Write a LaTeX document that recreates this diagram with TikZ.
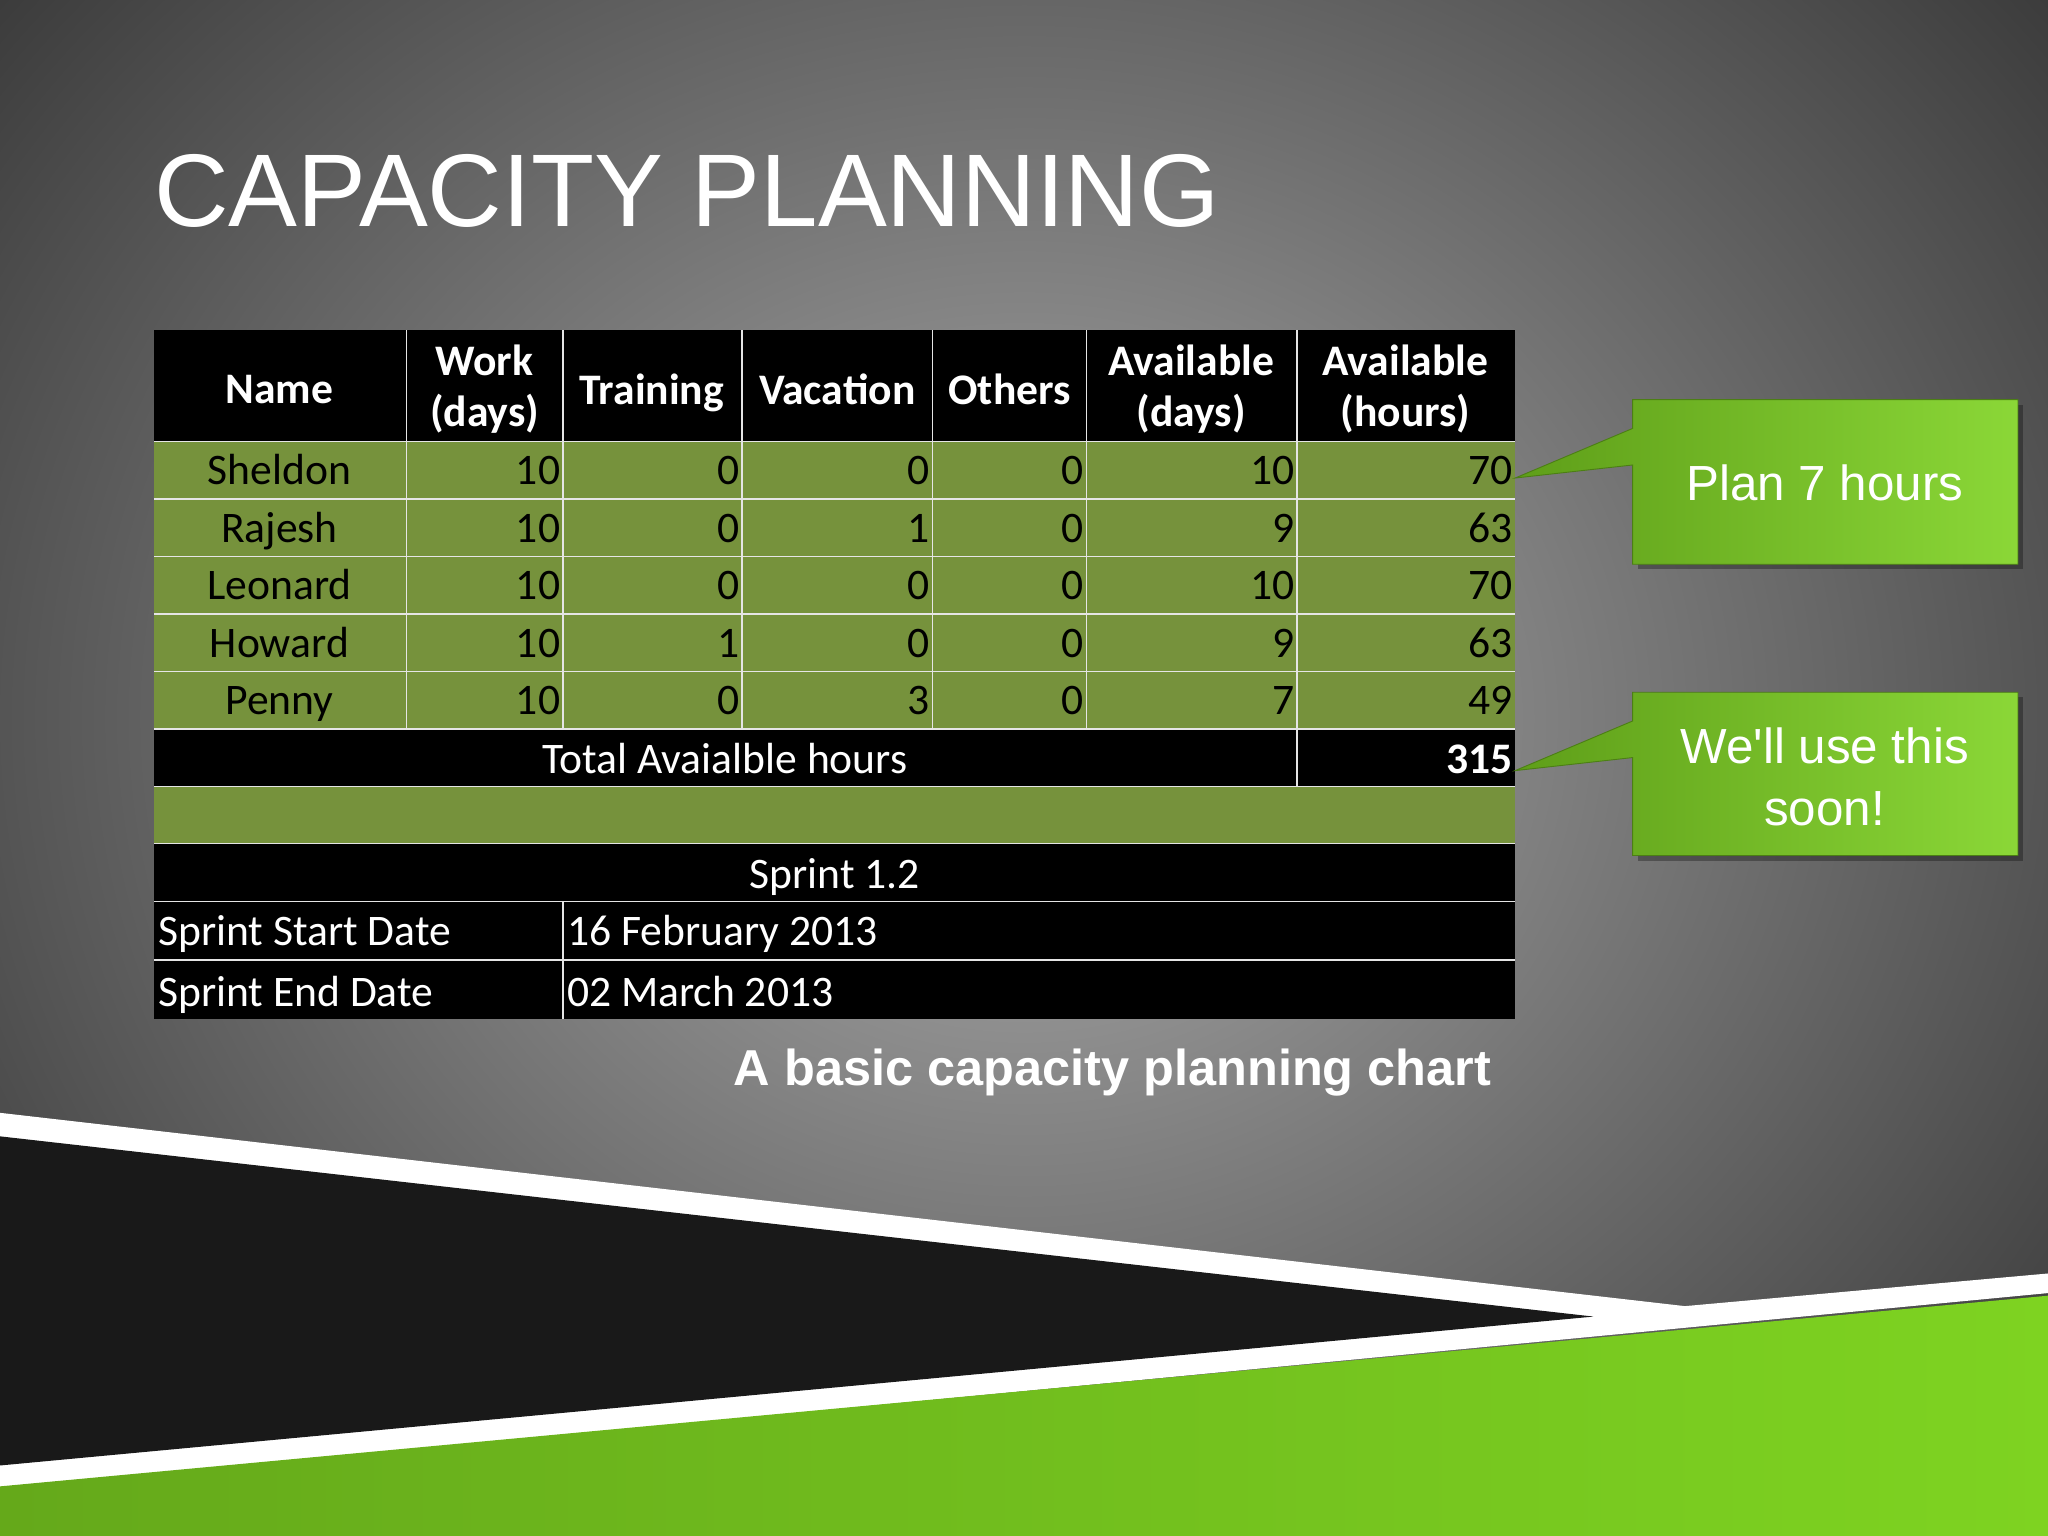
\documentclass[tikz,border=0pt]{standalone}
\usepackage{fontspec}
\setmainfont{Carlito}
\newfontfamily\arial{Liberation Sans}
\begin{document}
\begin{tikzpicture}[x=0.02cm,y=-0.02cm,
  cell/.style={font=\fontsize{19}{22}\selectfont, text height=0.7em, text depth=0.22em},
  hdr/.style={font=\bfseries\fontsize{19}{22}\selectfont, text=white, align=center},
  ctext/.style={font=\arial\fontsize{21.5}{27}\selectfont, text=white, align=center}]
\definecolor{cgreen}{HTML}{76923C}
\definecolor{lgreen}{HTML}{7ED321}
\useasboundingbox (0,0) rectangle (1568,1176);
% background
\shade[inner color=gray!65, outer color=black!80] (-300,-400) rectangle (1868,1500);
% bottom shapes
\fill[white] (0,852) -- (1290,1000) -- (1568,975) -- (1568,990) -- (0,1140) -- cycle;
\fill[black!90] (0,870) -- (1220,1008) -- (0,1122) -- cycle;
\shade[left color=lgreen!80!black, right color=lgreen] (0,1138) -- (1568,992) -- (1568,1176) -- (0,1176) -- cycle;
% title
\node[anchor=west, text=white, font=\arial\fontsize{45}{50}\selectfont] (title) at (112,146) {CAPACITY PLANNING};
% table fills
\fill[black] (118,253) rectangle (1160,338);
\fill[cgreen] (118,338) rectangle (1160,558);
\fill[black] (118,558) rectangle (1160,602);
\fill[cgreen] (118,602) rectangle (1160,646);
\fill[black] (118,646) rectangle (1160,780);
% grid lines
\foreach \x in {311,431,568,714,832,993} \draw[white!80!gray, line width=0.6pt] (\x,253) -- (\x,558);
\draw[white!80!gray, line width=0.6pt] (993,558) -- (993,602);
\draw[white!80!gray, line width=0.6pt] (431,690) -- (431,780);
\foreach \y in {338,382,426,470,514,558,602,646,690,735} \draw[white!80!gray, line width=0.6pt] (118,\y) -- (1160,\y);
% headers
\node[hdr] (h1) at (214,298) {Name};
\node[hdr] (h2) at (371,298) {Work\\(days)};
\node[hdr] (h3) at (499,302) {\strut Training};
\node[hdr] (h4) at (641,302) {\strut Vacation};
\node[hdr] (h5) at (773,302) {\strut Others};
\node[hdr] (h6) at (912,298) {Available\\(days)};
\node[hdr] (h7) at (1076,298) {Available\\(hours)};
% rows
\foreach \n/\a/\b/\c/\d/\e/\f [count=\i] in {Sheldon/10/0/0/0/10/70,Rajesh/10/0/1/0/9/63,Leonard/10/0/0/0/10/70,Howard/10/1/0/0/9/63,Penny/10/0/3/0/7/49}{
  \pgfmathsetmacro\yy{367+44*(\i-1)}
  \node[cell] (n\i) at (214,\yy) {\n};
  \node[cell,anchor=east,inner sep=1pt] (a\i) at (431,\yy) {\a};
  \node[cell,anchor=east,inner sep=1pt] (b\i) at (568,\yy) {\b};
  \node[cell,anchor=east,inner sep=1pt] (c\i) at (714,\yy) {\c};
  \node[cell,anchor=east,inner sep=1pt] (d\i) at (832,\yy) {\d};
  \node[cell,anchor=east,inner sep=1pt] (e\i) at (993,\yy) {\e};
  \node[cell,anchor=east,inner sep=1pt] (f\i) at (1160,\yy) {\f};
}
\node[cell,text=white] (tot) at (555,588) {Total Avaialble hours};
\node[cell,text=white,font=\bfseries\fontsize{19}{22}\selectfont,anchor=east,inner sep=1pt] (totv) at (1160,588) {315};
\node[cell,text=white] (sp) at (639,676) {Sprint 1.2};
\node[cell,text=white,anchor=west,inner sep=1pt] (sd) at (119,720) {Sprint Start Date};
\node[cell,text=white,anchor=west,inner sep=1pt] (sdv) at (432,720) {16 February 2013};
\node[cell,text=white,anchor=west,inner sep=1pt] (ed) at (119,766) {Sprint End Date};
\node[cell,text=white,anchor=west,inner sep=1pt] (edv) at (432,766) {02 March 2013};
% caption
\node[text=white,font=\arial\bfseries\fontsize{22}{26}\selectfont,anchor=east] (cap) at (1148,821) {A basic capacity planning chart};
% callouts
\fill[black,opacity=0.3] (1254,310) rectangle (1549,436);
\fill[black,opacity=0.3] (1254,534) rectangle (1549,659);
\shade[left color=lgreen!75!black, right color=lgreen!90!white, draw=lgreen!60!black] (1250,306) -- (1545,306) -- (1545,432) -- (1250,432) -- (1250,356) -- (1160,366) -- (1250,328) -- cycle;
\shade[left color=lgreen!75!black, right color=lgreen!90!white, draw=lgreen!60!black] (1250,530) -- (1545,530) -- (1545,655) -- (1250,655) -- (1250,580) -- (1160,590) -- (1250,552) -- cycle;
\node[ctext] (c1) at (1397,370) {Plan 7 hours};
\node[ctext] (c2) at (1397,595) {We'll use this\\soon!};
\end{tikzpicture}
\end{document}
